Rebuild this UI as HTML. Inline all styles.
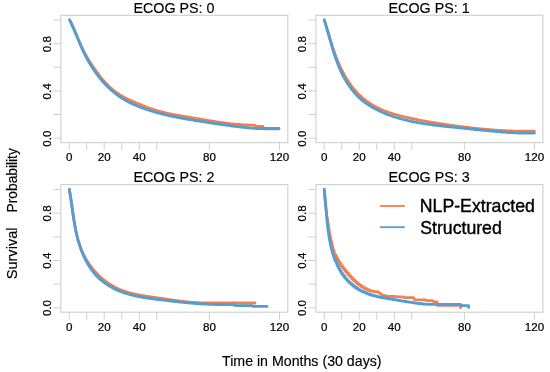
<!DOCTYPE html>
<html lang="en"><head><meta charset="utf-8"><title>Survival Probability by ECOG PS</title>
<style>html,body{margin:0;padding:0;background:#fff}body{width:550px;height:372px;overflow:hidden}svg text{font-family:"Liberation Sans",Arial,Helvetica,sans-serif}</style></head>
<body>
<svg width="550" height="372" viewBox="0 0 550 372" style="display:block">
<rect width="550" height="372" fill="#fff"/>
<g><rect x="60.9" y="15.3" width="226.9" height="127.3" fill="none" stroke="#d0d0d0" stroke-width="1.15"/><path d="M53.4 138.1H60.9M53.4 114.5H60.9M53.4 90.9H60.9M53.4 67.3H60.9M53.4 43.7H60.9M53.4 20.1H60.9M69.2 142.6V150.1M86.7 142.6V150.1M104.2 142.6V150.1M121.8 142.6V150.1M139.3 142.6V150.1M156.8 142.6V150.1M209.4 142.6V150.1M279.5 142.6V150.1" stroke="#d0d0d0" stroke-width="1.0" fill="none"/><text x="69.2" y="161.1" font-size="11.6" stroke="#000" stroke-width="0.22" text-anchor="middle" fill="#000" >0</text><text x="104.2" y="161.1" font-size="11.6" stroke="#000" stroke-width="0.22" text-anchor="middle" fill="#000" >20</text><text x="139.3" y="161.1" font-size="11.6" stroke="#000" stroke-width="0.22" text-anchor="middle" fill="#000" >40</text><text x="209.4" y="161.1" font-size="11.6" stroke="#000" stroke-width="0.22" text-anchor="middle" fill="#000" >80</text><text x="279.5" y="161.1" font-size="11.6" stroke="#000" stroke-width="0.22" text-anchor="middle" fill="#000" >120</text><text transform="translate(51.1 138.6) rotate(-90)" font-size="11.6" stroke="#000" stroke-width="0.22" text-anchor="middle" fill="#000" >0.0</text><text transform="translate(51.1 91.4) rotate(-90)" font-size="11.6" stroke="#000" stroke-width="0.22" text-anchor="middle" fill="#000" >0.4</text><text transform="translate(51.1 44.2) rotate(-90)" font-size="11.6" stroke="#000" stroke-width="0.22" text-anchor="middle" fill="#000" >0.8</text><text x="174.0" y="13.1" font-size="14.3" stroke="#000" stroke-width="0.15" text-anchor="middle" fill="#000" >ECOG PS: 0</text><polyline points="69.6,19.9 70.0,20.6 70.4,21.3 70.7,22.0 71.1,22.7 71.5,23.4 71.8,24.2 72.2,24.9 72.5,25.6 72.9,26.3 73.2,27.0 73.5,27.8 73.8,28.5 74.2,29.2 74.5,30.0 74.8,30.7 75.1,31.4 75.4,32.2 75.7,32.9 76.1,33.7 76.4,34.4 76.7,35.1 77.0,35.9 77.3,36.6 77.6,37.3 77.9,38.1 78.2,38.8 78.5,39.6 78.8,40.3 79.1,41.0 79.4,41.8 79.7,42.5 80.1,43.3 80.4,44.0 80.7,44.7 81.0,45.5 81.3,46.2 81.7,46.9 82.0,47.6 82.4,48.4 82.7,49.1 83.0,49.8 83.4,50.5 83.8,51.2 84.1,51.9 84.5,52.7 84.9,53.4 85.2,54.1 85.6,54.8 86.0,55.5 86.4,56.2 86.8,56.9 87.2,57.5 87.6,58.2 88.1,58.9 88.5,59.6 88.9,60.3 89.3,61.0 89.7,61.6 90.2,62.3 90.6,63.0 91.0,63.6 91.5,64.3 91.9,65.0 92.4,65.6 92.8,66.3 93.3,67.0 93.7,67.6 94.2,68.3 94.6,68.9 95.1,69.6 95.6,70.3 96.0,70.9 96.5,71.6 97.0,72.2 97.4,72.9 97.9,73.5 98.4,74.1 98.9,74.8 99.3,75.4 99.8,76.1 100.3,76.7 100.8,77.3 101.3,77.9 101.8,78.6 102.3,79.2 102.9,79.8 103.4,80.4 103.9,81.0 104.4,81.6 105.0,82.2 105.5,82.8 106.0,83.4 106.6,84.0 107.1,84.5 107.7,85.1 108.3,85.7 108.8,86.2 109.4,86.8 110.0,87.3 110.6,87.9 111.2,88.4 111.8,88.9 112.4,89.4 113.0,89.9 113.6,90.5 114.3,90.9 114.9,91.4 115.6,91.9 116.2,92.4 116.9,92.8 117.5,93.3 118.2,93.7 118.8,94.2 119.5,94.6 120.2,95.0 120.9,95.4 121.6,95.8 122.3,96.2 123.0,96.6 123.7,97.0 124.4,97.4 125.1,97.8 125.8,98.1 126.5,98.5 127.3,98.8 128.0,99.2 128.7,99.5 129.4,99.8 130.1,100.2 130.9,100.5 131.6,100.8 132.3,101.2 133.1,101.5 133.8,101.8 134.5,102.1 135.3,102.5 136.0,102.8 136.7,103.1 137.5,103.4 138.2,103.7 138.9,104.0 139.7,104.3 140.4,104.6 141.2,104.9 141.9,105.2 142.6,105.5 143.4,105.8 144.1,106.1 144.9,106.4 145.6,106.7 146.4,107.0 147.1,107.3 147.9,107.5 148.6,107.8 149.4,108.1 150.1,108.3 150.9,108.6 151.7,108.8 152.4,109.1 153.2,109.3 153.9,109.6 154.7,109.8 155.5,110.1 156.2,110.3 157.0,110.5 157.8,110.8 158.5,111.0 159.3,111.2 160.1,111.4 160.8,111.6 161.6,111.8 162.4,112.0 163.2,112.2 163.9,112.4 164.7,112.6 165.5,112.8 166.3,113.0 167.1,113.2 167.8,113.3 168.6,113.5 169.4,113.7 170.2,113.8 171.0,114.0 171.8,114.2 172.5,114.3 173.3,114.5 174.1,114.6 174.9,114.8 175.7,114.9 176.5,115.1 177.3,115.2 178.0,115.4 178.8,115.5 179.6,115.6 180.4,115.8 181.2,115.9 182.0,116.0 182.8,116.2 183.6,116.3 184.3,116.4 185.1,116.6 185.9,116.7 186.7,116.8 187.5,117.0 188.3,117.1 189.1,117.2 189.9,117.4 190.7,117.5 191.4,117.6 192.2,117.8 193.0,117.9 193.8,118.0 194.6,118.2 195.4,118.3 196.2,118.5 197.0,118.6 197.8,118.7 198.5,118.9 199.3,119.0 200.1,119.1 200.9,119.3 201.7,119.4 202.5,119.5 203.3,119.7 204.1,119.8 204.9,119.9 205.6,120.1 206.4,120.2 207.2,120.3 208.0,120.5 208.8,120.6 209.6,120.7 210.4,120.8 211.2,121.0 212.0,121.1 212.8,121.2 213.5,121.4 214.3,121.5 215.1,121.6 215.9,121.7 216.7,121.8 217.5,122.0 218.3,122.1 219.1,122.2 219.9,122.3 220.7,122.4 221.5,122.5 222.2,122.6 223.0,122.7 223.8,122.9 224.6,123.0 225.4,123.1 226.2,123.2 227.0,123.3 227.8,123.4 228.6,123.5 229.4,123.6 230.2,123.7 231.0,123.8 231.8,123.9 232.6,123.9 233.4,124.0 234.2,124.1 235.0,124.2 235.8,124.2 236.5,124.3 237.3,124.4 238.1,124.4 238.9,124.5 239.7,124.5 240.5,124.6 241.3,124.7 242.1,124.7 242.9,124.8 243.7,124.8 244.5,124.9 245.3,124.9 246.1,125.0 246.9,125.0 247.7,125.0 248.5,125.1 249.3,125.1 250.1,125.2 250.9,125.2 251.7,125.2 252.5,125.2 253.3,125.3 254.1,125.3 254.9,125.3 255.2,125.3 255.7,126.1 262.8,126.4 263.0,128.8 279.0,128.8" fill="none" stroke="#F07F52" stroke-width="2.8" stroke-linejoin="round" stroke-linecap="round"/><polyline points="69.6,19.9 69.9,20.6 70.3,21.3 70.6,22.1 71.0,22.8 71.3,23.5 71.6,24.3 71.9,25.0 72.3,25.7 72.6,26.5 72.9,27.2 73.2,27.9 73.5,28.7 73.9,29.4 74.2,30.1 74.5,30.9 74.8,31.6 75.1,32.3 75.4,33.1 75.7,33.8 76.0,34.5 76.4,35.3 76.7,36.0 77.0,36.8 77.3,37.5 77.6,38.2 77.9,39.0 78.2,39.7 78.5,40.4 78.8,41.2 79.2,41.9 79.5,42.7 79.8,43.4 80.1,44.1 80.4,44.9 80.7,45.6 81.1,46.3 81.4,47.0 81.7,47.8 82.0,48.5 82.4,49.2 82.7,50.0 83.0,50.7 83.4,51.4 83.7,52.1 84.1,52.9 84.4,53.6 84.8,54.3 85.1,55.0 85.5,55.7 85.9,56.4 86.2,57.1 86.6,57.9 87.0,58.6 87.4,59.3 87.7,60.0 88.1,60.7 88.5,61.4 88.9,62.1 89.3,62.8 89.7,63.4 90.1,64.1 90.5,64.8 91.0,65.5 91.4,66.2 91.8,66.9 92.2,67.5 92.7,68.2 93.1,68.9 93.6,69.5 94.0,70.2 94.5,70.9 94.9,71.5 95.4,72.2 95.8,72.8 96.3,73.5 96.8,74.1 97.3,74.8 97.7,75.4 98.2,76.0 98.7,76.7 99.2,77.3 99.7,77.9 100.2,78.5 100.7,79.2 101.3,79.8 101.8,80.4 102.3,81.0 102.8,81.6 103.4,82.2 103.9,82.8 104.4,83.4 105.0,83.9 105.5,84.5 106.1,85.1 106.6,85.7 107.2,86.2 107.8,86.8 108.3,87.4 108.9,87.9 109.5,88.5 110.1,89.0 110.7,89.6 111.3,90.1 111.9,90.6 112.5,91.1 113.1,91.7 113.7,92.2 114.3,92.7 114.9,93.2 115.6,93.7 116.2,94.2 116.8,94.6 117.5,95.1 118.1,95.6 118.8,96.1 119.4,96.5 120.1,97.0 120.8,97.4 121.4,97.9 122.1,98.3 122.8,98.7 123.5,99.1 124.2,99.5 124.8,100.0 125.5,100.4 126.2,100.7 126.9,101.1 127.6,101.5 128.3,101.9 129.1,102.2 129.8,102.6 130.5,103.0 131.2,103.3 131.9,103.7 132.7,104.0 133.4,104.3 134.1,104.7 134.8,105.0 135.6,105.3 136.3,105.6 137.1,105.9 137.8,106.2 138.5,106.5 139.3,106.8 140.0,107.1 140.8,107.4 141.5,107.7 142.3,108.0 143.0,108.2 143.8,108.5 144.5,108.8 145.3,109.0 146.0,109.3 146.8,109.5 147.6,109.8 148.3,110.0 149.1,110.3 149.8,110.5 150.6,110.8 151.4,111.0 152.1,111.2 152.9,111.5 153.7,111.7 154.4,111.9 155.2,112.1 156.0,112.4 156.8,112.6 157.5,112.8 158.3,113.0 159.1,113.2 159.8,113.4 160.6,113.6 161.4,113.8 162.2,114.0 162.9,114.2 163.7,114.4 164.5,114.6 165.3,114.7 166.1,114.9 166.8,115.1 167.6,115.3 168.4,115.5 169.2,115.6 170.0,115.8 170.7,116.0 171.5,116.1 172.3,116.3 173.1,116.5 173.9,116.6 174.7,116.8 175.4,116.9 176.2,117.1 177.0,117.3 177.8,117.4 178.6,117.6 179.4,117.7 180.2,117.9 180.9,118.0 181.7,118.2 182.5,118.3 183.3,118.4 184.1,118.6 184.9,118.7 185.7,118.9 186.5,119.0 187.2,119.1 188.0,119.3 188.8,119.4 189.6,119.5 190.4,119.7 191.2,119.8 192.0,119.9 192.8,120.1 193.6,120.2 194.3,120.3 195.1,120.5 195.9,120.6 196.7,120.7 197.5,120.8 198.3,121.0 199.1,121.1 199.9,121.2 200.7,121.3 201.5,121.5 202.2,121.6 203.0,121.7 203.8,121.8 204.6,122.0 205.4,122.1 206.2,122.2 207.0,122.3 207.8,122.5 208.6,122.6 209.4,122.7 210.1,122.8 210.9,122.9 211.7,123.1 212.5,123.2 213.3,123.3 214.1,123.4 214.9,123.5 215.7,123.6 216.5,123.8 217.3,123.9 218.1,124.0 218.9,124.1 219.6,124.2 220.4,124.3 221.2,124.4 222.0,124.6 222.8,124.7 223.6,124.8 224.4,124.9 225.2,125.0 226.0,125.1 226.8,125.2 227.6,125.3 228.4,125.4 229.2,125.5 229.9,125.6 230.7,125.8 231.5,125.9 232.3,126.0 233.1,126.1 233.9,126.2 234.7,126.3 235.5,126.4 236.3,126.5 237.1,126.6 237.9,126.7 238.7,126.8 239.5,126.9 240.3,127.0 241.1,127.1 241.9,127.2 242.6,127.2 243.4,127.3 244.2,127.4 245.0,127.5 245.8,127.6 246.6,127.7 247.4,127.7 248.2,127.8 249.0,127.9 249.8,128.0 250.6,128.1 251.4,128.2 252.2,128.2 253.0,128.3 253.8,128.4 254.6,128.4 255.4,128.4 256.2,128.5 257.0,128.5 257.8,128.5 258.6,128.5 259.4,128.5 260.2,128.5 261.0,128.5 261.8,128.5 262.6,128.5 263.4,128.5 264.2,128.5 265.0,128.5 265.8,128.5 266.6,128.5 267.4,128.5 268.2,128.5 269.0,128.5 269.8,128.5 270.6,128.5 271.4,128.5 272.2,128.5 273.0,128.5 273.8,128.5 274.6,128.5 275.4,128.5 276.2,128.5 277.0,128.5 277.8,128.5 278.6,128.5 279.0,128.5" fill="none" stroke="#529ED2" stroke-width="2.8" stroke-linejoin="round" stroke-linecap="round"/></g>
<g><rect x="315.9" y="15.3" width="227.0" height="127.3" fill="none" stroke="#d0d0d0" stroke-width="1.15"/><path d="M308.4 138.1H315.9M308.4 114.5H315.9M308.4 90.9H315.9M308.4 67.3H315.9M308.4 43.7H315.9M308.4 20.1H315.9M324.2 142.6V150.1M341.7 142.6V150.1M359.2 142.6V150.1M376.8 142.6V150.1M394.3 142.6V150.1M411.8 142.6V150.1M464.4 142.6V150.1M534.5 142.6V150.1" stroke="#d0d0d0" stroke-width="1.0" fill="none"/><text x="324.2" y="161.1" font-size="11.6" stroke="#000" stroke-width="0.22" text-anchor="middle" fill="#000" >0</text><text x="359.2" y="161.1" font-size="11.6" stroke="#000" stroke-width="0.22" text-anchor="middle" fill="#000" >20</text><text x="394.3" y="161.1" font-size="11.6" stroke="#000" stroke-width="0.22" text-anchor="middle" fill="#000" >40</text><text x="464.4" y="161.1" font-size="11.6" stroke="#000" stroke-width="0.22" text-anchor="middle" fill="#000" >80</text><text x="534.5" y="161.1" font-size="11.6" stroke="#000" stroke-width="0.22" text-anchor="middle" fill="#000" >120</text><text transform="translate(306.1 138.6) rotate(-90)" font-size="11.6" stroke="#000" stroke-width="0.22" text-anchor="middle" fill="#000" >0.0</text><text transform="translate(306.1 91.4) rotate(-90)" font-size="11.6" stroke="#000" stroke-width="0.22" text-anchor="middle" fill="#000" >0.4</text><text transform="translate(306.1 44.2) rotate(-90)" font-size="11.6" stroke="#000" stroke-width="0.22" text-anchor="middle" fill="#000" >0.8</text><text x="429.1" y="13.1" font-size="14.3" stroke="#000" stroke-width="0.15" text-anchor="middle" fill="#000" >ECOG PS: 1</text><polyline points="324.3,19.9 324.5,20.7 324.8,21.4 325.0,22.2 325.3,23.0 325.5,23.7 325.7,24.5 326.0,25.2 326.2,26.0 326.4,26.8 326.7,27.5 326.9,28.3 327.1,29.1 327.3,29.8 327.6,30.6 327.8,31.4 328.0,32.1 328.3,32.9 328.5,33.7 328.7,34.4 329.0,35.2 329.2,36.0 329.4,36.7 329.7,37.5 329.9,38.3 330.1,39.0 330.4,39.8 330.6,40.6 330.8,41.3 331.1,42.1 331.3,42.9 331.5,43.6 331.8,44.4 332.0,45.1 332.3,45.9 332.5,46.7 332.8,47.4 333.0,48.2 333.3,48.9 333.5,49.7 333.8,50.5 334.1,51.2 334.3,52.0 334.6,52.7 334.9,53.5 335.1,54.2 335.4,55.0 335.7,55.7 336.0,56.5 336.2,57.2 336.5,58.0 336.8,58.7 337.1,59.5 337.4,60.2 337.7,60.9 338.0,61.7 338.3,62.4 338.6,63.2 339.0,63.9 339.3,64.6 339.6,65.4 339.9,66.1 340.3,66.8 340.6,67.5 340.9,68.3 341.3,69.0 341.6,69.7 342.0,70.4 342.4,71.1 342.7,71.9 343.1,72.6 343.5,73.3 343.8,74.0 344.2,74.7 344.6,75.4 345.0,76.1 345.4,76.8 345.8,77.4 346.2,78.1 346.7,78.8 347.1,79.5 347.5,80.2 347.9,80.8 348.4,81.5 348.8,82.2 349.3,82.8 349.7,83.5 350.2,84.1 350.7,84.8 351.1,85.4 351.6,86.1 352.1,86.7 352.6,87.4 353.1,88.0 353.6,88.6 354.1,89.2 354.6,89.8 355.1,90.4 355.7,91.0 356.2,91.6 356.7,92.2 357.3,92.8 357.8,93.4 358.4,94.0 359.0,94.5 359.5,95.1 360.1,95.6 360.7,96.2 361.3,96.7 361.9,97.3 362.5,97.8 363.1,98.3 363.7,98.8 364.3,99.3 365.0,99.8 365.6,100.3 366.2,100.8 366.9,101.3 367.5,101.8 368.2,102.2 368.8,102.7 369.5,103.1 370.2,103.5 370.8,104.0 371.5,104.4 372.2,104.8 372.9,105.2 373.6,105.6 374.3,106.0 375.0,106.4 375.7,106.8 376.4,107.2 377.1,107.5 377.8,107.9 378.5,108.3 379.3,108.6 380.0,108.9 380.7,109.3 381.4,109.6 382.2,109.9 382.9,110.2 383.6,110.5 384.4,110.8 385.1,111.1 385.9,111.4 386.6,111.7 387.4,111.9 388.1,112.2 388.9,112.5 389.7,112.7 390.4,113.0 391.2,113.2 391.9,113.5 392.7,113.7 393.5,113.9 394.2,114.2 395.0,114.4 395.8,114.6 396.5,114.8 397.3,115.0 398.1,115.2 398.9,115.4 399.6,115.7 400.4,115.9 401.2,116.0 402.0,116.2 402.7,116.4 403.5,116.6 404.3,116.8 405.1,117.0 405.9,117.2 406.6,117.3 407.4,117.5 408.2,117.7 409.0,117.9 409.8,118.0 410.5,118.2 411.3,118.4 412.1,118.6 412.9,118.7 413.7,118.9 414.5,119.0 415.2,119.2 416.0,119.4 416.8,119.5 417.6,119.7 418.4,119.8 419.2,120.0 419.9,120.2 420.7,120.3 421.5,120.5 422.3,120.6 423.1,120.8 423.9,120.9 424.7,121.1 425.4,121.2 426.2,121.3 427.0,121.5 427.8,121.6 428.6,121.8 429.4,121.9 430.2,122.0 431.0,122.2 431.7,122.3 432.5,122.5 433.3,122.6 434.1,122.7 434.9,122.9 435.7,123.0 436.5,123.1 437.3,123.2 438.1,123.4 438.8,123.5 439.6,123.6 440.4,123.7 441.2,123.9 442.0,124.0 442.8,124.1 443.6,124.2 444.4,124.4 445.2,124.5 446.0,124.6 446.8,124.7 447.5,124.8 448.3,124.9 449.1,125.0 449.9,125.2 450.7,125.3 451.5,125.4 452.3,125.5 453.1,125.6 453.9,125.7 454.7,125.8 455.5,125.9 456.3,126.0 457.1,126.1 457.9,126.2 458.6,126.3 459.4,126.4 460.2,126.5 461.0,126.6 461.8,126.7 462.6,126.8 463.4,126.9 464.2,127.0 465.0,127.1 465.8,127.2 466.6,127.3 467.4,127.4 468.2,127.5 469.0,127.6 469.8,127.7 470.6,127.8 471.4,127.9 472.1,128.0 472.9,128.1 473.7,128.1 474.5,128.2 475.3,128.3 476.1,128.4 476.9,128.5 477.7,128.6 478.5,128.6 479.3,128.7 480.1,128.8 480.9,128.9 481.7,129.0 482.5,129.0 483.3,129.1 484.1,129.2 484.9,129.3 485.7,129.3 486.5,129.4 487.3,129.5 488.1,129.5 488.9,129.6 489.7,129.7 490.5,129.7 491.3,129.8 492.1,129.9 492.9,129.9 493.6,130.0 494.4,130.1 495.2,130.1 496.0,130.2 496.8,130.2 497.6,130.3 498.4,130.3 499.2,130.4 500.0,130.4 500.8,130.5 501.6,130.5 502.4,130.6 503.2,130.6 504.0,130.7 504.8,130.7 505.6,130.8 506.4,130.8 507.2,130.8 508.0,130.9 508.8,130.9 509.6,130.9 510.4,131.0 511.2,131.0 512.0,131.0 512.8,131.1 513.6,131.1 514.4,131.1 515.2,131.2 516.0,131.2 516.8,131.2 517.6,131.2 518.4,131.2 519.2,131.2 520.0,131.2 520.8,131.2 521.6,131.2 522.4,131.2 523.2,131.2 524.0,131.2 524.8,131.2 525.6,131.2 526.4,131.2 527.2,131.2 528.0,131.2 528.8,131.2 529.6,131.2 530.4,131.2 531.2,131.2 532.0,131.2 532.8,131.2 533.6,131.2 534.4,131.2" fill="none" stroke="#F07F52" stroke-width="2.8" stroke-linejoin="round" stroke-linecap="round"/><polyline points="324.3,19.9 324.5,20.7 324.8,21.4 325.0,22.2 325.2,23.0 325.5,23.7 325.7,24.5 325.9,25.3 326.1,26.0 326.4,26.8 326.6,27.6 326.8,28.3 327.0,29.1 327.2,29.9 327.5,30.6 327.7,31.4 327.9,32.2 328.1,33.0 328.3,33.7 328.5,34.5 328.8,35.3 329.0,36.0 329.2,36.8 329.4,37.6 329.6,38.3 329.8,39.1 330.1,39.9 330.3,40.7 330.5,41.4 330.7,42.2 330.9,43.0 331.2,43.7 331.4,44.5 331.6,45.3 331.8,46.0 332.1,46.8 332.3,47.6 332.5,48.3 332.7,49.1 333.0,49.9 333.2,50.6 333.4,51.4 333.7,52.2 333.9,52.9 334.2,53.7 334.4,54.4 334.7,55.2 334.9,56.0 335.2,56.7 335.4,57.5 335.7,58.2 336.0,59.0 336.2,59.7 336.5,60.5 336.8,61.2 337.1,62.0 337.3,62.7 337.6,63.5 337.9,64.2 338.2,65.0 338.5,65.7 338.8,66.5 339.1,67.2 339.4,67.9 339.7,68.7 340.1,69.4 340.4,70.1 340.7,70.9 341.1,71.6 341.4,72.3 341.7,73.0 342.1,73.8 342.4,74.5 342.8,75.2 343.2,75.9 343.5,76.6 343.9,77.3 344.3,78.0 344.7,78.7 345.1,79.4 345.5,80.1 345.9,80.8 346.3,81.5 346.7,82.2 347.2,82.8 347.6,83.5 348.0,84.2 348.5,84.9 348.9,85.5 349.4,86.2 349.8,86.8 350.3,87.5 350.8,88.1 351.2,88.8 351.7,89.4 352.2,90.0 352.7,90.7 353.2,91.3 353.8,91.9 354.3,92.5 354.8,93.1 355.3,93.7 355.9,94.3 356.4,94.9 357.0,95.5 357.5,96.0 358.1,96.6 358.7,97.2 359.2,97.7 359.8,98.2 360.4,98.8 361.0,99.3 361.6,99.8 362.2,100.4 362.9,100.9 363.5,101.4 364.1,101.8 364.8,102.3 365.4,102.8 366.1,103.3 366.7,103.7 367.4,104.2 368.0,104.6 368.7,105.1 369.4,105.5 370.1,105.9 370.7,106.4 371.4,106.8 372.1,107.2 372.8,107.6 373.5,108.0 374.2,108.3 374.9,108.7 375.6,109.1 376.3,109.5 377.0,109.8 377.8,110.2 378.5,110.5 379.2,110.9 379.9,111.2 380.6,111.6 381.4,111.9 382.1,112.2 382.8,112.5 383.6,112.8 384.3,113.2 385.1,113.5 385.8,113.8 386.5,114.1 387.3,114.3 388.0,114.6 388.8,114.9 389.5,115.2 390.3,115.5 391.0,115.7 391.8,116.0 392.5,116.3 393.3,116.5 394.1,116.8 394.8,117.0 395.6,117.3 396.4,117.5 397.1,117.7 397.9,117.9 398.7,118.2 399.4,118.4 400.2,118.6 401.0,118.8 401.7,119.0 402.5,119.2 403.3,119.5 404.1,119.7 404.8,119.8 405.6,120.0 406.4,120.2 407.2,120.4 407.9,120.6 408.7,120.8 409.5,120.9 410.3,121.1 411.1,121.3 411.9,121.5 412.6,121.6 413.4,121.8 414.2,121.9 415.0,122.1 415.8,122.2 416.6,122.4 417.3,122.5 418.1,122.7 418.9,122.8 419.7,123.0 420.5,123.1 421.3,123.2 422.1,123.3 422.9,123.5 423.7,123.6 424.4,123.7 425.2,123.8 426.0,124.0 426.8,124.1 427.6,124.2 428.4,124.3 429.2,124.4 430.0,124.5 430.8,124.6 431.6,124.7 432.4,124.9 433.2,125.0 434.0,125.1 434.7,125.2 435.5,125.3 436.3,125.3 437.1,125.4 437.9,125.5 438.7,125.6 439.5,125.7 440.3,125.8 441.1,125.9 441.9,126.0 442.7,126.1 443.5,126.2 444.3,126.3 445.1,126.3 445.9,126.4 446.7,126.5 447.5,126.6 448.3,126.7 449.1,126.8 449.9,126.8 450.7,126.9 451.4,127.0 452.2,127.1 453.0,127.2 453.8,127.2 454.6,127.3 455.4,127.4 456.2,127.5 457.0,127.6 457.8,127.6 458.6,127.7 459.4,127.8 460.2,127.9 461.0,128.0 461.8,128.0 462.6,128.1 463.4,128.2 464.2,128.3 465.0,128.4 465.8,128.5 466.6,128.5 467.4,128.6 468.2,128.7 469.0,128.8 469.8,128.9 470.5,129.0 471.3,129.0 472.1,129.1 472.9,129.2 473.7,129.3 474.5,129.4 475.3,129.5 476.1,129.5 476.9,129.6 477.7,129.7 478.5,129.8 479.3,129.9 480.1,130.0 480.9,130.0 481.7,130.1 482.5,130.2 483.3,130.3 484.1,130.4 484.9,130.4 485.7,130.5 486.5,130.6 487.3,130.7 488.1,130.8 488.9,130.8 489.6,130.9 490.4,131.0 491.2,131.1 492.0,131.1 492.8,131.2 493.6,131.3 494.4,131.4 495.2,131.4 496.0,131.5 496.8,131.6 497.6,131.6 498.4,131.7 499.2,131.8 500.0,131.8 500.8,131.9 501.6,132.0 502.4,132.0 503.2,132.1 504.0,132.1 504.8,132.2 505.6,132.2 506.4,132.3 507.2,132.4 508.0,132.4 508.8,132.5 509.6,132.5 510.4,132.6 511.2,132.6 512.0,132.6 512.8,132.7 513.6,132.7 514.4,132.8 515.2,132.8 516.0,132.9 516.8,132.9 517.6,132.9 518.4,133.0 519.2,133.0 520.0,133.0 520.8,133.0 521.6,133.0 522.4,133.0 523.2,133.0 524.0,133.0 524.8,133.1 525.6,133.1 526.4,133.1 527.2,133.1 528.0,133.1 528.8,133.1 529.6,133.1 530.4,133.1 531.2,133.1 532.0,133.1 532.8,133.1 533.6,133.1 534.4,133.1 534.4,133.1" fill="none" stroke="#529ED2" stroke-width="2.8" stroke-linejoin="round" stroke-linecap="round"/></g>
<g><rect x="60.9" y="184.6" width="226.9" height="127.6" fill="none" stroke="#d0d0d0" stroke-width="1.15"/><path d="M53.4 307.8H60.9M53.4 284.2H60.9M53.4 260.5H60.9M53.4 236.9H60.9M53.4 213.2H60.9M53.4 189.6H60.9M69.2 312.2V319.7M86.7 312.2V319.7M104.2 312.2V319.7M121.8 312.2V319.7M139.3 312.2V319.7M156.8 312.2V319.7M209.4 312.2V319.7M279.5 312.2V319.7" stroke="#d0d0d0" stroke-width="1.0" fill="none"/><text x="69.2" y="330.7" font-size="11.6" stroke="#000" stroke-width="0.22" text-anchor="middle" fill="#000" >0</text><text x="104.2" y="330.7" font-size="11.6" stroke="#000" stroke-width="0.22" text-anchor="middle" fill="#000" >20</text><text x="139.3" y="330.7" font-size="11.6" stroke="#000" stroke-width="0.22" text-anchor="middle" fill="#000" >40</text><text x="209.4" y="330.7" font-size="11.6" stroke="#000" stroke-width="0.22" text-anchor="middle" fill="#000" >80</text><text x="279.5" y="330.7" font-size="11.6" stroke="#000" stroke-width="0.22" text-anchor="middle" fill="#000" >120</text><text transform="translate(51.1 308.0) rotate(-90)" font-size="11.6" stroke="#000" stroke-width="0.22" text-anchor="middle" fill="#000" >0.0</text><text transform="translate(51.1 260.7) rotate(-90)" font-size="11.6" stroke="#000" stroke-width="0.22" text-anchor="middle" fill="#000" >0.4</text><text transform="translate(51.1 213.4) rotate(-90)" font-size="11.6" stroke="#000" stroke-width="0.22" text-anchor="middle" fill="#000" >0.8</text><text x="174.0" y="182.4" font-size="14.3" stroke="#000" stroke-width="0.15" text-anchor="middle" fill="#000" >ECOG PS: 2</text><polyline points="69.3,189.4 69.4,190.2 69.6,191.0 69.7,191.8 69.9,192.5 70.0,193.3 70.1,194.1 70.3,194.9 70.4,195.7 70.5,196.5 70.7,197.3 70.8,198.1 70.9,198.9 71.0,199.7 71.1,200.4 71.2,201.2 71.4,202.0 71.5,202.8 71.6,203.6 71.7,204.4 71.8,205.2 71.9,206.0 72.0,206.8 72.1,207.6 72.3,208.4 72.4,209.2 72.5,210.0 72.6,210.7 72.7,211.5 72.8,212.3 72.9,213.1 73.0,213.9 73.1,214.7 73.3,215.5 73.4,216.3 73.5,217.1 73.6,217.9 73.7,218.7 73.8,219.5 74.0,220.2 74.1,221.0 74.2,221.8 74.3,222.6 74.5,223.4 74.6,224.2 74.7,225.0 74.9,225.8 75.0,226.6 75.2,227.3 75.3,228.1 75.5,228.9 75.6,229.7 75.8,230.5 76.0,231.3 76.1,232.1 76.3,232.8 76.5,233.6 76.7,234.4 76.8,235.2 77.0,235.9 77.2,236.7 77.4,237.5 77.6,238.3 77.8,239.0 78.0,239.8 78.3,240.6 78.5,241.4 78.7,242.1 79.0,242.9 79.2,243.6 79.5,244.4 79.7,245.2 80.0,245.9 80.3,246.7 80.5,247.4 80.8,248.2 81.1,248.9 81.4,249.7 81.7,250.4 82.0,251.1 82.3,251.9 82.7,252.6 83.0,253.3 83.3,254.1 83.7,254.8 84.0,255.5 84.4,256.2 84.8,256.9 85.2,257.6 85.6,258.3 86.0,259.0 86.4,259.7 86.8,260.4 87.2,261.1 87.6,261.7 88.0,262.4 88.5,263.1 88.9,263.7 89.4,264.4 89.8,265.1 90.3,265.7 90.8,266.4 91.3,267.0 91.8,267.6 92.3,268.3 92.8,268.9 93.3,269.5 93.8,270.1 94.3,270.7 94.8,271.3 95.4,271.9 95.9,272.5 96.4,273.1 97.0,273.7 97.6,274.2 98.1,274.8 98.7,275.4 99.3,275.9 99.9,276.5 100.4,277.0 101.0,277.5 101.6,278.1 102.3,278.6 102.9,279.1 103.5,279.6 104.1,280.1 104.7,280.6 105.4,281.1 106.0,281.6 106.7,282.0 107.3,282.5 108.0,283.0 108.6,283.4 109.3,283.9 110.0,284.3 110.7,284.7 111.3,285.1 112.0,285.5 112.7,285.9 113.4,286.3 114.1,286.7 114.8,287.1 115.5,287.5 116.3,287.8 117.0,288.2 117.7,288.5 118.4,288.8 119.2,289.1 119.9,289.5 120.6,289.8 121.4,290.1 122.1,290.3 122.9,290.6 123.6,290.9 124.4,291.2 125.1,291.4 125.9,291.7 126.7,291.9 127.4,292.1 128.2,292.4 129.0,292.6 129.7,292.8 130.5,293.0 131.3,293.2 132.1,293.4 132.8,293.6 133.6,293.8 134.4,294.0 135.2,294.1 136.0,294.3 136.7,294.5 137.5,294.6 138.3,294.8 139.1,294.9 139.9,295.1 140.7,295.2 141.5,295.4 142.2,295.5 143.0,295.6 143.8,295.8 144.6,295.9 145.4,296.0 146.2,296.2 147.0,296.3 147.8,296.4 148.6,296.5 149.4,296.6 150.2,296.8 150.9,296.9 151.7,297.0 152.5,297.1 153.3,297.2 154.1,297.3 154.9,297.4 155.7,297.5 156.5,297.7 157.3,297.8 158.1,297.9 158.9,298.0 159.7,298.1 160.4,298.2 161.2,298.3 162.0,298.5 162.8,298.6 163.6,298.7 164.4,298.8 165.2,298.9 166.0,299.1 166.8,299.2 167.6,299.3 168.4,299.4 169.1,299.6 169.9,299.7 170.7,299.8 171.5,299.9 172.3,300.0 173.1,300.2 173.9,300.3 174.7,300.4 175.5,300.5 176.3,300.6 177.1,300.7 177.9,300.8 178.6,300.9 179.4,301.0 180.2,301.1 181.0,301.3 181.8,301.4 182.6,301.5 183.4,301.5 184.2,301.6 185.0,301.7 185.8,301.8 186.6,301.9 187.4,302.0 188.2,302.0 189.0,302.1 189.8,302.2 190.6,302.2 191.4,302.3 192.2,302.3 193.0,302.4 193.8,302.5 194.6,302.5 195.4,302.6 196.2,302.6 197.0,302.6 197.8,302.7 198.6,302.7 199.4,302.7 200.2,302.8 201.0,302.8 201.8,302.8 202.6,302.9 203.4,302.9 204.2,302.9 205.0,302.9 205.8,302.9 206.6,303.0 207.4,303.0 208.2,303.0 209.0,303.0 209.8,303.0 210.6,303.0 211.4,303.0 212.2,303.0 213.0,303.0 213.8,303.0 214.6,303.0 215.4,303.0 216.2,303.0 217.0,303.0 217.8,303.0 218.6,303.0 219.4,303.0 220.2,303.0 221.0,303.0 221.8,303.0 222.6,303.0 223.4,303.0 224.2,303.0 225.0,303.0 225.8,303.0 226.6,303.0 227.4,303.0 228.2,303.0 229.0,303.0 229.8,303.0 230.6,303.0 231.4,303.0 232.2,303.0 233.0,303.0 233.8,303.0 234.6,303.0 235.4,303.0 236.2,303.0 237.0,303.0 237.8,303.0 238.6,303.0 239.4,303.0 240.2,303.0 241.0,303.0 241.8,303.0 242.6,303.0 243.4,303.0 244.2,303.0 245.0,303.0 245.8,303.0 246.6,303.0 247.4,303.0 248.2,303.0 249.0,303.0 249.8,303.0 250.6,303.0 251.4,303.0 252.2,303.0 253.0,303.0 253.8,303.0 254.6,303.0 255.0,303.0" fill="none" stroke="#F07F52" stroke-width="2.8" stroke-linejoin="round" stroke-linecap="round"/><polyline points="69.3,189.4 69.4,190.2 69.6,191.0 69.7,191.8 69.8,192.6 70.0,193.3 70.1,194.1 70.2,194.9 70.4,195.7 70.5,196.5 70.6,197.3 70.7,198.1 70.8,198.9 70.9,199.7 71.1,200.5 71.2,201.3 71.3,202.0 71.4,202.8 71.5,203.6 71.6,204.4 71.8,205.2 71.9,206.0 72.0,206.8 72.1,207.6 72.2,208.4 72.3,209.2 72.4,210.0 72.5,210.8 72.6,211.5 72.8,212.3 72.9,213.1 73.0,213.9 73.1,214.7 73.2,215.5 73.4,216.3 73.5,217.1 73.6,217.9 73.7,218.7 73.8,219.5 74.0,220.2 74.1,221.0 74.2,221.8 74.4,222.6 74.5,223.4 74.6,224.2 74.8,225.0 74.9,225.8 75.1,226.6 75.2,227.3 75.4,228.1 75.5,228.9 75.7,229.7 75.8,230.5 76.0,231.3 76.2,232.0 76.3,232.8 76.5,233.6 76.7,234.4 76.8,235.2 77.0,235.9 77.2,236.7 77.4,237.5 77.6,238.3 77.8,239.1 78.0,239.8 78.2,240.6 78.4,241.4 78.7,242.1 78.9,242.9 79.1,243.7 79.3,244.4 79.6,245.2 79.8,246.0 80.1,246.7 80.3,247.5 80.6,248.2 80.9,249.0 81.1,249.7 81.4,250.5 81.7,251.2 82.0,252.0 82.3,252.7 82.6,253.5 82.9,254.2 83.2,254.9 83.5,255.7 83.9,256.4 84.2,257.1 84.5,257.9 84.9,258.6 85.2,259.3 85.6,260.0 86.0,260.7 86.3,261.4 86.7,262.1 87.1,262.8 87.5,263.5 87.9,264.2 88.3,264.9 88.8,265.6 89.2,266.3 89.6,266.9 90.0,267.6 90.5,268.3 91.0,268.9 91.4,269.6 91.9,270.2 92.4,270.9 92.9,271.5 93.4,272.1 93.9,272.7 94.4,273.4 94.9,274.0 95.4,274.6 96.0,275.2 96.5,275.8 97.1,276.3 97.6,276.9 98.2,277.5 98.7,278.0 99.3,278.6 99.9,279.1 100.5,279.6 101.1,280.2 101.7,280.7 102.4,281.2 103.0,281.7 103.6,282.2 104.3,282.7 104.9,283.1 105.6,283.6 106.2,284.0 106.9,284.5 107.6,284.9 108.2,285.4 108.9,285.8 109.6,286.2 110.3,286.6 111.0,287.0 111.7,287.4 112.4,287.8 113.1,288.2 113.8,288.5 114.5,288.9 115.2,289.2 116.0,289.6 116.7,289.9 117.4,290.2 118.1,290.5 118.9,290.9 119.6,291.2 120.4,291.5 121.1,291.7 121.9,292.0 122.6,292.3 123.4,292.6 124.1,292.8 124.9,293.1 125.7,293.3 126.4,293.5 127.2,293.8 127.9,294.0 128.7,294.2 129.5,294.4 130.3,294.7 131.0,294.9 131.8,295.0 132.6,295.2 133.4,295.4 134.1,295.6 134.9,295.8 135.7,296.0 136.5,296.1 137.3,296.3 138.1,296.4 138.8,296.6 139.6,296.8 140.4,296.9 141.2,297.0 142.0,297.2 142.8,297.3 143.6,297.5 144.4,297.6 145.1,297.7 145.9,297.8 146.7,298.0 147.5,298.1 148.3,298.2 149.1,298.3 149.9,298.4 150.7,298.5 151.5,298.6 152.3,298.7 153.1,298.8 153.9,299.0 154.7,299.1 155.4,299.2 156.2,299.3 157.0,299.4 157.8,299.5 158.6,299.6 159.4,299.7 160.2,299.8 161.0,299.8 161.8,299.9 162.6,300.0 163.4,300.1 164.2,300.2 165.0,300.3 165.8,300.4 166.6,300.5 167.4,300.6 168.1,300.7 168.9,300.8 169.7,300.9 170.5,301.0 171.3,301.1 172.1,301.2 172.9,301.3 173.7,301.4 174.5,301.4 175.3,301.5 176.1,301.6 176.9,301.7 177.7,301.8 178.5,301.9 179.3,302.0 180.1,302.0 180.9,302.1 181.7,302.2 182.5,302.3 183.3,302.4 184.1,302.4 184.9,302.5 185.6,302.6 186.4,302.7 187.2,302.7 188.0,302.8 188.8,302.9 189.6,303.0 190.4,303.0 191.2,303.1 192.0,303.2 192.8,303.2 193.6,303.3 194.4,303.4 195.2,303.4 196.0,303.5 196.8,303.6 197.6,303.6 198.4,303.7 199.2,303.7 200.0,303.8 200.8,303.8 201.6,303.9 202.4,303.9 203.2,304.0 204.0,304.0 204.8,304.1 205.6,304.1 206.4,304.2 207.2,304.2 208.0,304.2 208.8,304.3 209.6,304.3 210.4,304.3 211.2,304.3 212.0,304.4 212.8,304.4 213.6,304.4 214.4,304.4 215.2,304.5 216.0,304.5 216.8,304.5 217.6,304.5 218.4,304.5 219.2,304.6 220.0,304.6 220.8,304.6 221.6,304.6 222.4,304.6 223.2,304.6 224.0,304.6 224.8,304.6 225.6,304.6 226.4,304.6 227.2,304.6 228.0,304.6 228.8,304.6 229.6,304.6 230.4,304.6 231.2,304.6 232.0,304.6 232.0,304.6 236.4,305.6 251.6,305.6 252.7,306.4 267.0,306.4" fill="none" stroke="#529ED2" stroke-width="2.8" stroke-linejoin="round" stroke-linecap="round"/></g>
<g><rect x="315.9" y="184.6" width="227.0" height="127.6" fill="none" stroke="#d0d0d0" stroke-width="1.15"/><path d="M308.4 307.8H315.9M308.4 284.2H315.9M308.4 260.5H315.9M308.4 236.9H315.9M308.4 213.2H315.9M308.4 189.6H315.9M324.2 312.2V319.7M341.7 312.2V319.7M359.2 312.2V319.7M376.8 312.2V319.7M394.3 312.2V319.7M411.8 312.2V319.7M464.4 312.2V319.7M534.5 312.2V319.7" stroke="#d0d0d0" stroke-width="1.0" fill="none"/><text x="324.2" y="330.7" font-size="11.6" stroke="#000" stroke-width="0.22" text-anchor="middle" fill="#000" >0</text><text x="359.2" y="330.7" font-size="11.6" stroke="#000" stroke-width="0.22" text-anchor="middle" fill="#000" >20</text><text x="394.3" y="330.7" font-size="11.6" stroke="#000" stroke-width="0.22" text-anchor="middle" fill="#000" >40</text><text x="464.4" y="330.7" font-size="11.6" stroke="#000" stroke-width="0.22" text-anchor="middle" fill="#000" >80</text><text x="534.5" y="330.7" font-size="11.6" stroke="#000" stroke-width="0.22" text-anchor="middle" fill="#000" >120</text><text transform="translate(306.1 308.0) rotate(-90)" font-size="11.6" stroke="#000" stroke-width="0.22" text-anchor="middle" fill="#000" >0.0</text><text transform="translate(306.1 260.7) rotate(-90)" font-size="11.6" stroke="#000" stroke-width="0.22" text-anchor="middle" fill="#000" >0.4</text><text transform="translate(306.1 213.4) rotate(-90)" font-size="11.6" stroke="#000" stroke-width="0.22" text-anchor="middle" fill="#000" >0.8</text><text x="429.1" y="182.4" font-size="14.3" stroke="#000" stroke-width="0.15" text-anchor="middle" fill="#000" >ECOG PS: 3</text><polyline points="324.3,189.4 324.4,191.8 324.6,194.2 324.8,196.6 325.0,199.0 325.2,201.4 325.4,203.8 325.7,206.1 326.0,208.5 326.3,210.9 326.6,213.3 326.9,215.7 327.3,218.0 327.6,220.4 328.0,222.8 328.4,225.2 328.7,227.5 329.1,229.9 329.5,232.3 330.0,234.6 330.4,237.0 330.9,239.3 331.4,241.7 332.0,244.0 332.6,246.3 333.2,248.6 333.9,250.9 334.6,253.2 335.5,255.5 336.4,255.5 336.4,257.7 337.4,257.7 337.4,259.9 338.6,259.9 338.6,262.0 339.8,262.0 339.8,264.0 341.2,264.0 341.2,266.0 342.6,266.0 342.6,267.9 344.1,267.9 344.1,269.8 345.6,269.8 345.6,271.7 347.1,271.7 347.1,273.5 348.7,273.5 348.7,275.3 350.3,275.3 350.3,277.1 351.9,277.1 351.9,278.9 353.6,278.9 353.6,280.6 355.4,280.6 355.4,282.2 357.2,282.2 357.2,283.8 359.1,283.8 359.1,285.2 361.1,285.2 361.1,286.6 363.2,286.6 363.2,287.8 365.3,287.8 365.3,289.0 367.4,289.0 367.4,290.0 369.7,290.0 369.7,290.9 372.0,290.9 372.0,291.3 374.4,291.3 374.4,291.6 376.8,291.6 376.8,291.9 378.4,291.9 378.4,291.9 380.0,293.5 382.7,295.2 388.2,296.3 393.6,296.3 399.1,296.8 403.5,296.8 404.4,297.7 413.6,297.7 414.7,299.7 425.6,299.9 426.7,300.7 432.7,300.7 433.8,301.8 437.1,301.8 437.1,305.3 460.6,305.3 460.6,307.8" fill="none" stroke="#F07F52" stroke-width="2.8" stroke-linejoin="round" stroke-linecap="round"/><polyline points="324.2,189.4 324.4,191.4 324.6,193.4 324.8,195.4 325.0,197.4 325.2,199.3 325.4,201.3 325.5,203.3 325.7,205.3 325.9,207.3 326.0,209.3 326.2,211.3 326.4,213.3 326.5,215.3 326.7,217.3 326.9,219.3 327.1,221.3 327.3,223.3 327.5,225.2 327.7,227.2 328.0,229.2 328.2,231.2 328.5,233.2 328.8,235.2 329.1,237.1 329.5,239.1 329.8,241.1 330.2,243.0 330.6,245.0 331.0,246.9 331.5,248.9 332.0,250.8 332.5,252.8 333.1,254.7 333.7,256.6 334.4,258.5 335.0,260.4 335.8,260.4 335.8,262.2 336.6,262.2 336.6,264.1 337.4,264.1 337.4,265.9 338.3,265.9 338.3,267.7 339.2,267.7 339.2,269.4 340.2,269.4 340.2,271.2 341.2,271.2 341.2,272.9 342.3,272.9 342.3,274.6 343.5,274.6 343.5,276.2 344.7,276.2 344.7,277.8 346.0,277.8 346.0,279.3 347.3,279.3 347.3,280.8 348.7,280.8 348.7,282.3 350.2,282.3 350.2,283.6 351.7,283.6 351.7,284.9 353.2,284.9 353.2,286.2 354.8,286.2 354.8,287.4 356.5,287.4 356.5,288.5 358.2,288.5 358.2,289.6 359.9,289.6 359.9,290.6 361.7,290.6 361.7,291.5 363.5,291.5 363.5,292.3 365.4,292.3 365.4,293.1 367.2,293.1 367.2,293.9 369.1,293.9 369.1,294.5 371.0,294.5 371.0,295.2 372.9,295.2 372.9,295.7 374.9,295.7 374.9,296.2 376.8,296.2 376.8,296.7 378.8,296.7 378.8,297.1 380.7,297.1 380.7,297.5 382.7,297.5 382.7,297.9 384.7,297.9 384.7,298.2 386.6,298.2 386.6,298.5 388.6,298.5 388.6,298.9 390.6,298.9 390.6,299.2 392.5,299.2 392.5,299.5 394.5,299.5 394.5,299.9 396.5,299.9 396.5,300.2 398.5,300.2 398.5,300.5 400.4,300.5 400.4,300.9 402.4,300.9 402.4,301.2 404.4,301.2 404.4,301.5 406.4,301.5 406.4,301.8 408.3,301.8 408.3,302.2 410.3,302.2 410.3,302.4 412.3,302.4 412.3,302.7 414.3,302.7 414.3,303.0 416.2,303.0 416.2,303.3 418.2,303.3 418.2,303.5 420.2,303.5 420.2,303.7 422.2,303.7 422.2,304.0 424.2,304.0 424.2,304.1 426.2,304.1 426.2,304.3 428.2,304.3 428.2,304.3 430.2,304.3 430.2,304.4 432.2,304.4 432.2,304.4 434.2,304.4 436.0,304.4 460.7,304.4 461.8,305.7 468.6,305.7 468.6,307.4" fill="none" stroke="#529ED2" stroke-width="2.8" stroke-linejoin="round" stroke-linecap="round"/></g>
<path d="M379.8 206H404.8" stroke="#F07F52" stroke-width="1.8"/><path d="M379.8 227.2H404.8" stroke="#529ED2" stroke-width="1.8"/>
<text x="419.8" y="212.4" font-size="17.7" stroke="#000" stroke-width="0.4" fill="#000" >NLP-Extracted</text>
<text x="420.2" y="233.6" font-size="17.7" stroke="#000" stroke-width="0.4" fill="#000" >Structured</text>
<text x="301.8" y="366.3" font-size="14.2" stroke="#000" stroke-width="0.15" text-anchor="middle" fill="#000" >Time in Months (30 days)</text>
<text transform="translate(16.6 279.3) rotate(-90)" font-size="14.3" stroke="#000" stroke-width="0.15" textLength="51.8" lengthAdjust="spacingAndGlyphs" fill="#000" >Survival</text>
<text transform="translate(16.6 212.4) rotate(-90)" font-size="14.3" stroke="#000" stroke-width="0.15" textLength="64.2" lengthAdjust="spacingAndGlyphs" fill="#000" >Probability</text>
</svg>
</body></html>
